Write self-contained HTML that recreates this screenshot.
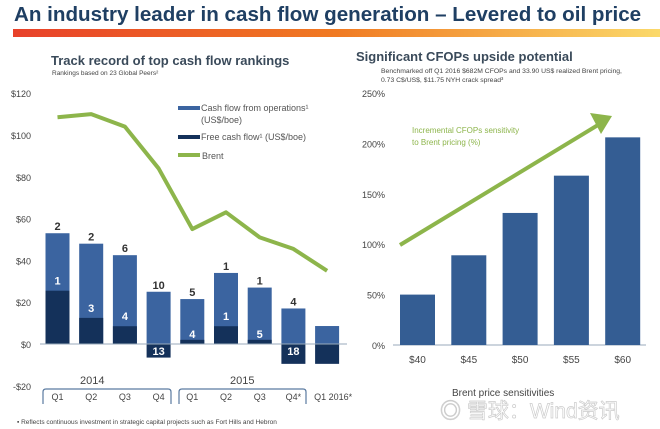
<!DOCTYPE html>
<html><head><meta charset="utf-8"><style>
body{margin:0;width:660px;height:429px;background:#fff;overflow:hidden;font-family:"Liberation Sans","Noto Sans CJK SC",sans-serif;}
svg{display:block}
</style></head><body>
<svg id="c" width="660" height="429">
<defs><linearGradient id="g" x1="0" x2="1"><stop offset="0" stop-color="#e8412a"/><stop offset="0.5" stop-color="#f07a22"/><stop offset="1" stop-color="#fbd96a"/></linearGradient></defs>
<text x="14" y="21" font-size="20.6" font-weight="bold" fill="#1f3f63">An industry leader in cash flow generation – Levered to oil price</text>
<rect x="13" y="29" width="647" height="8" fill="url(#g)"/>
<text x="51" y="65" font-size="13" font-weight="bold" fill="#3a4a5a">Track record of top cash flow rankings</text>
<text x="52" y="75" font-size="6.5" fill="#444">Rankings based on 23 Global Peers²</text>
<text x="356" y="61" font-size="13" font-weight="bold" fill="#3a4a5a">Significant CFOPs upside potential</text>
<text x="381" y="73" font-size="6.8" fill="#444">Benchmarked off Q1 2016 $682M CFOPs and 33.90 US$ realized Brent pricing,</text>
<text x="381" y="82" font-size="6.8" fill="#444">0.73 C$/US$, $11.75 NYH crack spread³</text>
<g id="left"></g><g id="right"></g>
<rect x="178" y="106" width="22" height="4" fill="#3b64a0"/>
<text x="201" y="111" font-size="9" fill="#555">Cash flow from operations¹</text>
<text x="201" y="123" font-size="9" fill="#555">(US$/boe)</text>
<rect x="178" y="135" width="22" height="4" fill="#14315a"/>
<text x="201" y="140" font-size="9" fill="#555">Free cash flow¹ (US$/boe)</text>
<rect x="178" y="153" width="22" height="4" fill="#8db54b"/>
<text x="202" y="159" font-size="9" fill="#555">Brent</text>
<text x="80" y="384" font-size="11" fill="#444">2014</text>
<text x="230" y="384" font-size="11" fill="#444">2015</text>
<path d="M43,404 V392 Q43,389 46,389 H168 Q171,389 171,392 V404" fill="none" stroke="#5a7aa0" stroke-width="1.2"/>
<path d="M179,404 V392 Q179,389 182,389 H303 Q306,389 306,392 V404" fill="none" stroke="#5a7aa0" stroke-width="1.2"/>
<text x="17" y="424" font-size="6.5" fill="#444">▪ Reflects continuous investment in strategic capital projects such as Fort Hills and Hebron</text>
<text x="452" y="396" font-size="10" fill="#444">Brent price sensitivities</text>
<text x="412" y="133" font-size="8" fill="#8db54b">Incremental  CFOPs sensitivity</text>
<text x="412" y="145" font-size="8" fill="#8db54b">to Brent pricing  (%)</text>
<text x="440" y="418" font-size="21" fill="#fff" stroke="#ccc" stroke-width="0.7">◎ 雪球：Wind资讯</text>
</svg>
<script>
const quarters=["Q1","Q2","Q3","Q4","Q1","Q2","Q3","Q4*","Q1 2016*"];
const cfo=[53,48,42.5,25,21.5,34,27,17,8.6];
const fcf=[25.5,12.5,8.5,-6.5,2,8.5,2,-9.5,-9.5];
const brent=[108.5,110,104,84,55,63,51,45.5,35];
const rankTop=["2","2","6","10","5","1","1","4",""];
const rankIn=["1","3","4","13","4","1","5","18",""];
const yTicks=[120,100,80,60,40,20,0,-20];
const sensCats=["$40","$45","$50","$55","$60"];
const sensVals=[50,89,131,168,206];
const pctTicks=[250,200,150,100,50,0];
const NS="http://www.w3.org/2000/svg";
function mk(p,t,a,txt){const e=document.createElementNS(NS,t);for(const k in a)e.setAttribute(k,a[k]);if(txt!==undefined)e.textContent=txt;p.appendChild(e);return e;}
const L=document.getElementById('left');
const y=v=>344-v*2.09;
const x=i=>57.5+i*33.7;
yTicks.forEach(v=>{const t=mk(L,'text',{x:31,y:y(v)+4,'font-size':9,fill:'#444','text-anchor':'end'},(v<0?'-$':'$')+Math.abs(v));

});
quarters.forEach((q,i)=>{const cx=x(i),w=24;
const b=mk(L,'rect',{x:cx-w/2,y:y(cfo[i]),width:w,height:y(0)-y(cfo[i]),fill:'#3b64a0'});


const f=fcf[i];
const fb=mk(L,'rect',{x:cx-w/2,y:Math.min(y(f),y(0)),width:w,height:Math.abs(y(f)-y(0)),fill:'#14315a'});


if(rankTop[i]){const t=mk(L,'text',{x:cx,y:y(cfo[i])-3,'font-size':11,'font-weight':'bold',fill:'#333','text-anchor':'middle'},rankTop[i]);

}
if(rankIn[i]){const ly=f>5?y(f)-6:(f>0?y(0)-6:y(0)+11);const t=mk(L,'text',{x:cx,y:ly,'font-size':11,'font-weight':'bold',fill:'#fff','text-anchor':'middle'},rankIn[i]);

}
const ql=mk(L,'text',{x:cx+(i==8?6:0),y:400,'font-size':9,fill:'#444','text-anchor':'middle'},q);

});
const ax=mk(L,'line',{x1:40,x2:347,y1:y(0),y2:y(0),stroke:'#9ab','stroke-width':1});


const bl=mk(L,'polyline',{points:brent.map((v,i)=>x(i)+','+y(v)).join(' '),fill:'none',stroke:'#8db54b','stroke-width':4,'stroke-linejoin':'round'});


const R=document.getElementById('right');
const yr=v=>345-v*1.008;
const xr=i=>417.5+i*51.3;
pctTicks.forEach(v=>{const t=mk(R,'text',{x:385,y:yr(v)+4,'font-size':9,fill:'#444','text-anchor':'end'},v+'%');

});
const rax=mk(R,'line',{x1:393,x2:646,y1:yr(0),y2:yr(0),stroke:'#9ab','stroke-width':1});


sensCats.forEach((c,i)=>{const b=mk(R,'rect',{x:xr(i)-17.5,y:yr(sensVals[i]),width:35,height:yr(0)-yr(sensVals[i]),fill:'#345d93'});


const t=mk(R,'text',{x:xr(i),y:363,'font-size':10,fill:'#444','text-anchor':'middle'},c);

});
const ar=mk(R,'line',{x1:400,y1:245,x2:598,y2:125,stroke:'#8db54b','stroke-width':4});


const ah=mk(R,'polygon',{points:'590,113 612,116 601,134',fill:'#8db54b'});


</script>
</body></html>
